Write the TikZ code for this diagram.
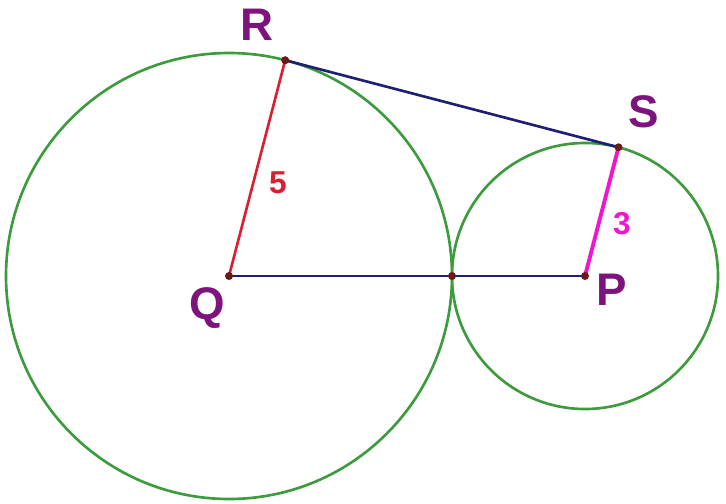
\documentclass[tikz,border=0pt]{standalone}
\usepackage{fontspec}
\setsansfont{Liberation Sans}
\usetikzlibrary{positioning}
\definecolor{circgreen}{RGB}{60,155,60}
\definecolor{segnavy}{RGB}{30,30,115}
\definecolor{segred}{RGB}{220,30,50}
\definecolor{segmag}{RGB}{245,20,205}
\definecolor{labpurple}{RGB}{125,20,125}
\definecolor{dotred}{RGB}{110,25,25}
\begin{document}
\begin{tikzpicture}[
    circ/.style={draw=circgreen, line width=1.5pt},
    navyline/.style={draw=segnavy, line width=1.5pt},
    dot/.style={circle, fill=dotred, inner sep=0pt, minimum size=1.6mm},
    ptlabel/.style={text=labpurple, font=\sffamily\bfseries\fontsize{26}{26}\selectfont},
    numlabel/.style={font=\sffamily\bfseries\fontsize{18}{18}\selectfont}
]
    \useasboundingbox (0,0) rectangle (14.52,10.06);

    % Centres and tangent points
    \coordinate (Q) at (4.58,4.54);
    \coordinate (P) at (11.70,4.54);
    \coordinate (T) at (9.04,4.54);
    \coordinate (R) at ([shift={(75.4:4.46)}]Q);
    \coordinate (S) at ([shift={(75.4:2.66)}]P);

    % Circles
    \draw[circ] (Q) circle (4.46);
    \draw[circ] (P) circle (2.66);

    % Segments
    \draw[navyline] (Q) -- (P);
    \draw[navyline] (R) -- (S);
    \draw[draw=segred, line width=1.5pt] (Q) -- (R);
    \draw[draw=segmag, line width=2.2pt] (P) -- (S);

    % Points
    \foreach \p in {Q,P,T,R,S}
        \node[dot] at (\p) {};

    % Labels
    \node[ptlabel] (labR) at (5.14,9.56) {R};
    \node[ptlabel] (labS) at (12.88,7.82) {S};
    \node[ptlabel] (labP) at (12.24,4.26) {P};
    \node[ptlabel] (labQ) at (4.14,3.90) {Q};
    \node[numlabel, text=segred] (lab5) at (5.56,6.40) {5};
    \node[numlabel, text=segmag] (lab3) at (12.44,5.58) {3};
\end{tikzpicture}
\end{document}
